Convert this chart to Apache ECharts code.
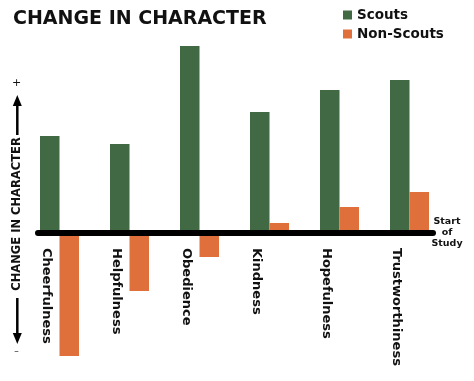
<!DOCTYPE html>
<html>
<head>
<meta charset="utf-8">
<script src="https://cdn.jsdelivr.net/npm/echarts@6/dist/echarts.min.js"></script>
<style>
html,body{margin:0;padding:0;background:#fff;}
#c{width:474px;height:381px;}
</style>
</head>
<body>
<div id="c"></div>
<script>
const categories = ['Cheerfulness', 'Helpfulness', 'Obedience', 'Kindness', 'Hopefulness', 'Trustworthiness'];
const scouts = [97, 89, 187, 121, 143, 153];
const nonScouts = [-123, -58, -24, 10, 26, 41];
const yMin = -127, yMax = 193;

const GREEN = '#416943';
const ORANGE = '#e0703b';
const FONT = 'DejaVu Sans';

const chart = echarts.init(document.getElementById('c'));
chart.setOption({
  animation: false,
  backgroundColor: '#fff',
  title: {
    text: 'CHANGE IN CHARACTER',
    left: 13, top: 10, padding: 0,
    textStyle: { fontFamily: FONT, fontWeight: 'bold', fontSize: 19, color: '#111' }
  },
  legend: {
    orient: 'vertical',
    left: 343, top: 8, padding: 0,
    itemWidth: 9, itemHeight: 9, itemGap: 5,
    icon: 'rect',
    textStyle: { fontFamily: FONT, fontWeight: 'bold', fontSize: 13.5, lineHeight: 13.5, color: '#111' },
    data: ['Scouts', 'Non-Scouts']
  },
  grid: [
    { left: 24.5, right: 29.5, top: 40, bottom: 21, outerBoundsMode: 'none', containLabel: false },
    { left: 38, right: 41, top: 40, bottom: 21, outerBoundsMode: 'none', containLabel: false }
  ],
  xAxis: [
    {
      type: 'category', gridIndex: 0, data: categories,
      offset: yMin, z: 12,
      axisLine: { show: false, onZero: false },
      axisTick: { show: false },
      axisLabel: {
        rotate: -90, margin: 15, interval: 0,
        fontFamily: FONT, fontWeight: 'bold', fontSize: 13, color: '#111',
        verticalAlign: 'top', lineHeight: 26
      }
    },
    {
      type: 'value', gridIndex: 1, min: 0, max: 1, z: 10,
      splitLine: { show: false }, axisTick: { show: false }, axisLabel: { show: false },
      axisLine: { show: true, onZero: true, lineStyle: { color: '#000', width: 6 } },
      name: 'Start\nof\nStudy', nameLocation: 'end', nameGap: 14,
      nameTextStyle: { fontFamily: FONT, fontWeight: 'bold', fontSize: 9.5, lineHeight: 11, color: '#111', align: 'center', verticalAlign: 'middle' }
    }
  ],
  yAxis: [
    { type: 'value', gridIndex: 0, min: yMin, max: yMax, show: false },
    { type: 'value', gridIndex: 1, min: yMin, max: yMax, show: false }
  ],
  series: [
    { name: 'Scouts', type: 'bar', xAxisIndex: 0, yAxisIndex: 0, data: scouts, barWidth: 19.5, barGap: '0%', itemStyle: { color: GREEN } },
    { name: 'Non-Scouts', type: 'bar', xAxisIndex: 0, yAxisIndex: 0, data: nonScouts, barWidth: 19.5, barGap: '0%', itemStyle: { color: ORANGE } }
  ],
  graphic: [
    { type: 'text', x: 17.5, y: 214, rotation: Math.PI / 2,
      style: { text: 'CHANGE IN CHARACTER', fontFamily: FONT, fontWeight: 'bold', fontSize: 11.5, fill: '#111', textAlign: 'center', textVerticalAlign: 'middle' } },
    { type: 'text', x: 16.5, y: 83,
      style: { text: '+', fontFamily: FONT, fontSize: 11, fill: '#111', textAlign: 'center', textVerticalAlign: 'middle' } },
    { type: 'text', x: 16.5, y: 352,
      style: { text: '–', fontFamily: FONT, fontSize: 9, fill: '#111', textAlign: 'center', textVerticalAlign: 'middle' } },
    { type: 'line', shape: { x1: 17.3, y1: 104, x2: 17.3, y2: 135 }, style: { stroke: '#000', lineWidth: 2.5 } },
    { type: 'polygon', shape: { points: [[17.3, 95], [12.8, 106], [21.8, 106]] }, style: { fill: '#000' } },
    { type: 'line', shape: { x1: 17.3, y1: 298, x2: 17.3, y2: 334 }, style: { stroke: '#000', lineWidth: 2.5 } },
    { type: 'polygon', shape: { points: [[17.3, 344], [12.8, 333], [21.8, 333]] }, style: { fill: '#000' } }
  ]
});
</script>
</body>
</html>
